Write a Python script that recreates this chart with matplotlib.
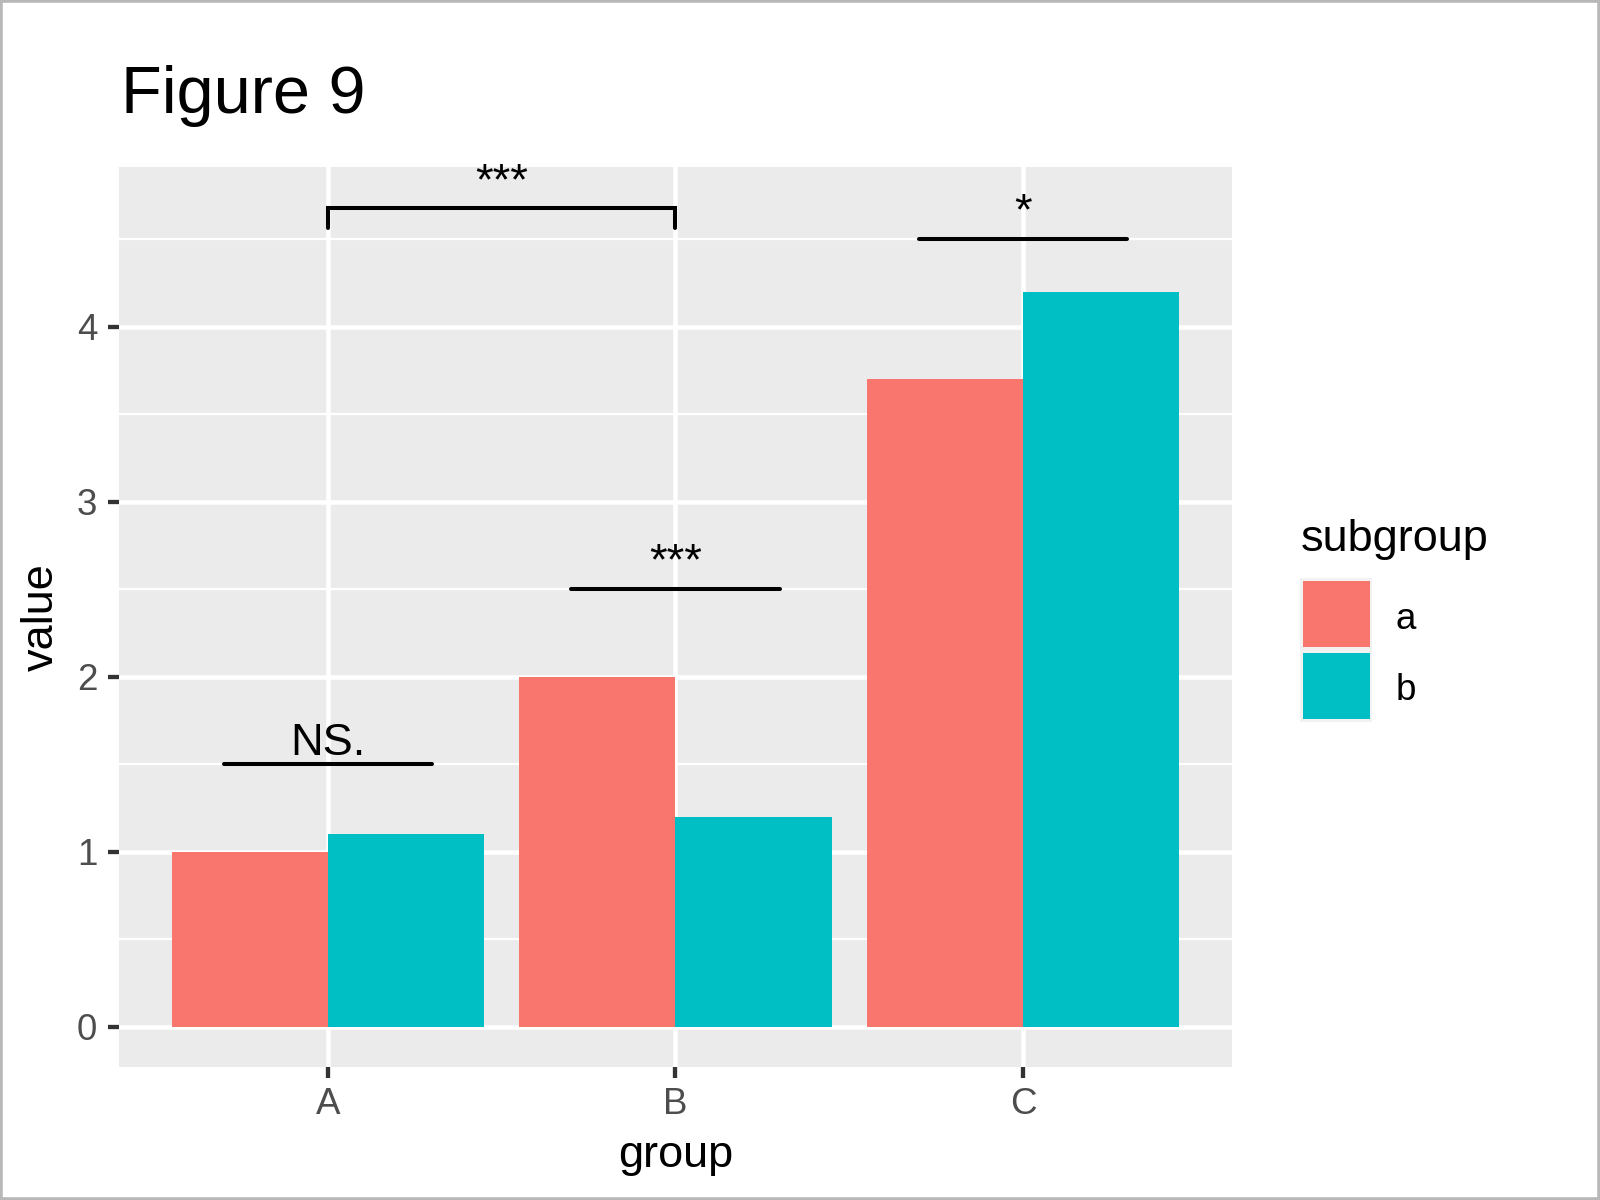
import numpy as np
import matplotlib
matplotlib.use("Agg")
import matplotlib.pyplot as plt
from matplotlib.patches import Rectangle

plt.rcParams['font.family'] = ['Liberation Sans', 'DejaVu Sans']

# data
groups = ['A', 'B', 'C']
subgroups = ['a', 'b']
values_a = [1.0, 2.0, 3.7]
values_b = [1.1, 1.2, 4.2]
colors = ['#F8766D', '#00BFC4']

# significance marks within each group
sig_labels = ['NS.', '***', '*']
sig_y = [1.5, 2.5, 4.5]
# bracket between groups A and B
bracket_groups = ('A', 'B')
bracket_label = '***'
bracket_y = 4.675
bracket_tip = 0.11

W, H = 1600, 1200
fig = plt.figure(figsize=(16, 12), dpi=100)

# panel position in pixels
left, right, top, bottom = 119.4, 1231.6, 167.3, 1067.3
ax = fig.add_axes([left / W, 1 - bottom / H, (right - left) / W, (bottom - top) / H])
ax.set_facecolor('#EBEBEB')

x = np.arange(1, len(groups) + 1)
bw = 0.45
ax.bar(x - bw / 2, values_a, width=bw, color=colors[0], linewidth=0, zorder=2)
ax.bar(x + bw / 2, values_b, width=bw, color=colors[1], linewidth=0, zorder=2)

ax.set_xlim(0.4, 3.6)
ax.set_ylim(-0.233, 4.91)
ax.set_xticks(x)
ax.set_xticklabels(groups)
ax.set_yticks([0, 1, 2, 3, 4])
ax.set_yticks([0.5, 1.5, 2.5, 3.5, 4.5], minor=True)

ax.set_axisbelow(True)
ax.grid(which='major', color='white', linewidth=3.3)
ax.grid(which='minor', axis='y', color='white', linewidth=1.65)
for s in ax.spines.values():
    s.set_visible(False)

ax.tick_params(axis='both', which='major', length=7.9, width=3.1, color='#333333',
               labelsize=26.5, labelcolor='#4D4D4D')
ax.tick_params(axis='y', which='major', pad=8)
ax.tick_params(axis='x', which='major', pad=6)
ax.tick_params(axis='both', which='minor', length=0)


def sig_text(xp, yp, lab):
    # asterisks sit a little higher in the reference font
    dy = 4 if set(lab) == {'*'} else 0
    ax.annotate(lab, (xp, yp), xytext=(0, dy), textcoords='offset points',
                ha='center', va='bottom', fontsize=32.5, zorder=5)


# significance lines inside groups
lw = 2.9
for xi, lab, yv in zip(x, sig_labels, sig_y):
    ax.plot([xi - 0.3, xi + 0.3], [yv, yv], color='black', lw=lw,
            solid_capstyle='round', zorder=4)
    sig_text(xi, yv, lab)

# bracket between groups
x0 = x[groups.index(bracket_groups[0])]
x1 = x[groups.index(bracket_groups[1])]
ax.plot([x0, x0, x1, x1],
        [bracket_y - bracket_tip, bracket_y, bracket_y, bracket_y - bracket_tip],
        color='black', lw=lw, solid_capstyle='round', solid_joinstyle='miter', zorder=4)
sig_text((x0 + x1) / 2, bracket_y, bracket_label)

# titles
fig.text(121 / W, 1 - 113.3 / H, 'Figure 9', fontsize=48, ha='left', va='baseline')
fig.text((left + right) / 2 / W, 1 - 1166.7 / H, 'group', fontsize=32.5,
         ha='center', va='baseline')
fig.text(53.3 / W, 1 - (top + bottom) / 2 / H, 'value', fontsize=32.5, rotation=90,
         rotation_mode='anchor', ha='center', va='baseline')

# legend
fig.text(1300.7 / W, 1 - 551 / H, 'subgroup', fontsize=32.5, ha='left', va='baseline')
cell = 72
for i, (lab, col) in enumerate(zip(subgroups, colors)):
    y_top = 578 + i * cell
    fig.add_artist(Rectangle((1300 / W, 1 - (y_top + cell) / H), cell / W, cell / H,
                             transform=fig.transFigure, facecolor='#F2F2F2',
                             edgecolor='none'))
    fig.add_artist(Rectangle((1302.7 / W, 1 - (y_top + cell - 3) / H), 67 / W, 66 / H,
                             transform=fig.transFigure, facecolor=col,
                             edgecolor='none'))
    fig.text(1395.7 / W, 1 - (y_top + 50.5) / H, lab, fontsize=26.5,
             ha='left', va='baseline')

# outer border
fig.add_artist(Rectangle((0, 0), 1, 1, transform=fig.transFigure, fill=False,
                         edgecolor='#B8B8B8', linewidth=4))

fig.savefig('out.png', dpi=100, facecolor='white')
